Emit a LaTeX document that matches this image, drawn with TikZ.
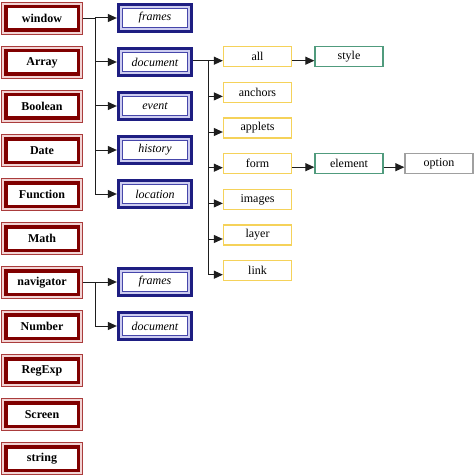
\documentclass[tikz,border=0pt]{standalone}
\usepackage{fontspec}
\setmainfont{Liberation Serif}
\usetikzlibrary{arrows.meta}
\definecolor{redthin}{RGB}{170,60,60}
\definecolor{pinkband}{RGB}{242,212,212}
\definecolor{darkred}{RGB}{128,0,0}
\definecolor{navyb}{RGB}{30,30,130}
\definecolor{lav}{RGB}{205,205,240}
\definecolor{blueline}{RGB}{70,70,170}
\definecolor{ylw}{RGB}{245,210,90}
\definecolor{grn}{RGB}{80,155,125}
\definecolor{gry}{RGB}{160,160,160}
\definecolor{lnk}{RGB}{30,30,30}
\tikzset{
  redbox/.style={draw=redthin, line width=0.8pt, fill=pinkband,
    minimum width=81pt, minimum height=32pt, inner sep=0pt,
    font=\bfseries\fontsize{12}{14}\selectfont,
    path picture={\draw[darkred, line width=3.4pt, fill=white]
      ([shift={(4.3pt,-4.3pt)}]path picture bounding box.north west) rectangle
      ([shift={(-4.3pt,4.3pt)}]path picture bounding box.south east);}},
  bluebox/.style={draw=navyb, line width=2.8pt, fill=lav,
    minimum width=73.5pt, minimum height=27.5pt, inner sep=0pt,
    font=\itshape\fontsize{12}{14}\selectfont,
    path picture={\draw[blueline, line width=0.8pt, fill=white]
      ([shift={(4.2pt,-4.2pt)}]path picture bounding box.north west) rectangle
      ([shift={(-4.2pt,4.2pt)}]path picture bounding box.south east);}},
  smallbox/.style={line width=1.3pt, fill=white, minimum width=68pt,
    minimum height=20pt, inner sep=0pt, font=\fontsize{12}{14}\selectfont},
  ybox/.style={smallbox, draw=ylw},
  gbox/.style={smallbox, draw=grn},
  obox/.style={smallbox, draw=gry},
  arr/.style={draw=lnk, line width=1pt, -{Triangle[length=9pt,width=8pt]}},
}
\begin{document}
\begin{tikzpicture}[x=1pt,y=1pt]
\useasboundingbox[fill=white] (0,0) rectangle (474,-476);
% left column
\node[redbox] (win) at (42,-18.5) {window};
\node[redbox] (arr1) at (42,-62.5) {Array};
\node[redbox] (bool) at (42,-106.5) {Boolean};
\node[redbox] (date) at (42,-150.5) {Date};
\node[redbox] (func) at (42,-194.5) {Function};
\node[redbox] (math) at (42,-238.5) {Math};
\node[redbox] (nav) at (42,-282.5) {navigator};
\node[redbox] (num) at (42,-326.5) {Number};
\node[redbox] (regx) at (42,-370.5) {RegExp};
\node[redbox] (scr) at (42,-414.5) {Screen};
\node[redbox] (str) at (42,-458.5) {string};
% blue column
\node[bluebox] (fr1) at (155,-18) {frames};
\node[bluebox] (doc1) at (155,-62) {document};
\node[bluebox] (evt) at (155,-106) {event};
\node[bluebox] (hist) at (155,-150) {history};
\node[bluebox] (loc) at (155,-194) {location};
\node[bluebox] (fr2) at (155,-282) {frames};
\node[bluebox] (doc2) at (155,-326) {document};
% yellow column
\node[ybox] (all) at (257.5,-56.7) {all};
\node[ybox] (anc) at (257.5,-92.4) {anchors};
\node[ybox] (app) at (257.5,-128.0) {applets};
\node[ybox] (form) at (257.5,-163.7) {form};
\node[ybox] (img) at (257.5,-199.4) {images};
\node[ybox] (lay) at (257.5,-235.0) {layer};
\node[ybox] (link) at (257.5,-270.7) {link};
% green and gray
\node[gbox] (sty) at (349,-56.7) {style};
\node[gbox] (elem) at (349,-163.7) {element};
\node[obox] (opt) at (439,-163.7) {option};
% window connectors
\foreach \t in {fr1,doc1,evt,hist,loc}
  \draw[arr] (win.east) -- ([xshift=13pt]win.east) |- (\t.west);
% navigator connectors
\foreach \t in {fr2,doc2}
  \draw[arr] (nav.east) -- ([xshift=13pt]nav.east) |- (\t.west);
% document connectors
\foreach \t in {all,anc,app,form,img,lay,link}
  \draw[arr] ([yshift=1pt]doc1.east) -- ([xshift=15pt,yshift=1pt]doc1.east) |- ([yshift=-4pt]\t.west);
\draw[arr] ([yshift=-4pt]all.east) -- ([yshift=-4pt]sty.west);
\draw[arr] ([yshift=-3.5pt]form.east) -- ([yshift=-3.5pt]elem.west);
\draw[arr] ([yshift=-3.5pt]elem.east) -- ([yshift=-3.5pt]opt.west);
\end{tikzpicture}
\end{document}
